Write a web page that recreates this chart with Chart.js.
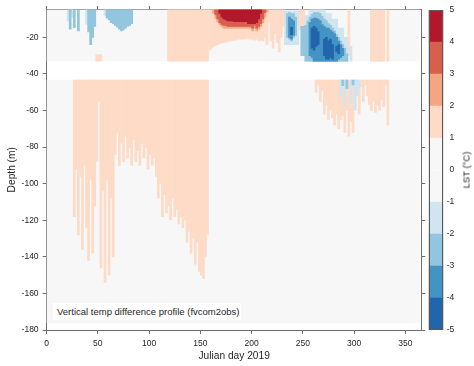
<!DOCTYPE html>
<html>
<head>
<meta charset="utf-8">
<script src="https://cdn.jsdelivr.net/npm/chart.js@4/dist/chart.umd.min.js"></script>
<style>
  html, body { margin: 0; padding: 0; background: #fff; }
  #wrap { position: relative; width: 474px; height: 366px; font-family: 'Liberation Sans', Arial, Helvetica, sans-serif; color: #262626; }
  #main { position: absolute; left: 0; top: 0; }
  #bar { position: absolute; left: 424px; top: 0; }
  #note { position: absolute; left: 53px; top: 303px; width: 188px; height: 17px; line-height: 17px; background: #fff; font-size: 9.5px; padding-left: 4px; box-sizing: border-box; white-space: nowrap; }
  #cbTitle { position: absolute; left: 466px; top: 170px; transform: translate(-50%, -50%) rotate(-90deg); font-size: 9.5px; white-space: nowrap; }
</style>
</head>
<body>
<div id="wrap">
  <canvas id="main" width="474" height="366"></canvas>
  <canvas id="bar" width="50" height="366"></canvas>
  <div id="note">Vertical temp difference profile (fvcom2obs)</div>
  <div id="cbTitle">LST (°C)</div>
</div>
<script>
const FONT = "'Liberation Sans', Arial, Helvetica, sans-serif";
const INK = '#262626';
const AXIS = '#6e6e6e';

// axis ticks
const dayTicks = [0, 50, 100, 150, 200, 250, 300, 350];
const depthTicks = [-180, -160, -140, -120, -100, -80, -60, -40, -20];

// colour levels of the colorbar (LST difference, °C)
const levelEdges = [-5, -4, -3, -2, -1, 0, 1, 2, 3, 4, 5];
const levelColors = ['#2166ac', '#4393c3', '#92c5de', '#d1e5f0', '#f7f7f7', '#f7f7f7', '#fddbc7', '#f4a582', '#d6604d', '#b2182b'];

// depth limits of the profile data (m)
const dataTop = -4.8;
const gapTop = -33;
const gapBottom = -43.4;
const dataBottom = -176;

// one column every 2 days: [firstDay, lastDay, topDepth, bottomDepth]
const warm4Runs = [
  [169, 169, -4.8, -7], [171, 171, -4.8, -9], [173, 173, -4.8, -10], [175, 175, -4.8, -10.5],
  [177, 181, -4.8, -11], [183, 195, -4.8, -11.5], [197, 203, -4.8, -12.5], [205, 205, -4.8, -12],
  [207, 207, -4.8, -10], [209, 209, -4.8, -7]
];
const warm3Runs = [
  [165, 165, -4.8, -7.5], [167, 167, -4.8, -10], [169, 169, -4.8, -12], [171, 171, -4.8, -13],
  [173, 175, -4.8, -13.5], [177, 199, -4.8, -14], [201, 201, -4.8, -15], [203, 203, -4.8, -13.5],
  [205, 205, -4.8, -15], [207, 207, -4.8, -14], [209, 209, -4.8, -12.5], [211, 211, -4.8, -10],
  [213, 213, -4.8, -6.5]
];
const warm2Runs = [
  [163, 163, -4.8, -7], [165, 165, -4.8, -9.5], [167, 167, -4.8, -11.5], [169, 169, -4.8, -13],
  [171, 171, -4.8, -14], [173, 199, -4.8, -15], [201, 201, -4.8, -16.5], [203, 203, -4.8, -15],
  [205, 205, -4.8, -16.5], [207, 207, -4.8, -15.5], [209, 209, -4.8, -14], [211, 211, -4.8, -12],
  [213, 213, -4.8, -9], [215, 215, -4.8, -6]
];
const warm1Runs = [
  [49, 53, -29.5, -33], [119, 157, -4.8, -33], [247, 251, -4.8, -16],
  [295, 295, -4.8, -30], [317, 329, -4.8, -33], [333, 333, -4.8, -33]
];
// 1 to 2 °C columns hanging from the surface / from the gap
const upperWarmStart = 159;
const upperWarmBottom = [
  -27, -26, -25, -24.5, -24, -23.5, -23, -23, -22.5, -22.5, -22, -22, -21.5, -21.5, -21, -21,
  -21, -21, -20.5, -21, -21, -21, -21.5, -21, -22, -21.5, -22, -20, -24, -12, -22, -26,
  -18, -23, -28, -20, -14
];
const deepWestStart = 27;
const deepWestBottom = [
  -118, -92, -128, -96, -136, -90, -124, -142, -98, -138, -112, -88, -55, -146, -104, -154,
  -98, -150, -108, -140, -84, -72, -90, -78, -88, -74, -86, -80, -90, -76, -88, -82,
  -90, -78, -86, -80, -92, -84, -90, -86, -96, -108, -100, -118, -106, -116, -112, -120,
  -108, -118, -114, -122, -118, -124, -120, -132, -126, -138, -130, -144, -132, -148, -150, -152,
  -140, -128
];
const deepEastStart = 263;
const deepEastBottom = [
  -50, -46, -55, -49, -62, -57, -65, -60, -64, -68, -62, -70, -65, -63, -72, -60,
  -74, -66, -72, -58, -50, -62, -47, -55, -46, -52, -57, -60, -55, -61, -57, -60,
  -54, -58, -46, -68
];

const cool1Runs = [
  [21, 21, -4.8, -11], [25, 25, -4.8, -9], [39, 39, -4.8, -13], [57, 57, -4.8, -8],
  [233, 245, -5.5, -24], [253, 255, -8, -33], [257, 271, -4.8, -33], [273, 277, -7, -33],
  [279, 283, -10, -33], [285, 289, -15, -33], [291, 293, -20, -33], [297, 297, -25, -33],
  [287, 287, -43.4, -52], [291, 291, -43.4, -58], [297, 297, -43.4, -56], [301, 301, -43.4, -60],
  [303, 303, -43.4, -52], [305, 305, -43.4, -48]
];
const cool2Runs = [
  [23, 23, -4.8, -15.5], [27, 27, -4.8, -14.8], [31, 31, -4.8, -16.5],
  [41, 41, -4.8, -17], [43, 43, -4.8, -24], [45, 45, -4.8, -20], [47, 47, -4.8, -14],
  [59, 59, -4.8, -9.5], [61, 61, -4.8, -10.5], [63, 63, -4.8, -12], [65, 65, -4.8, -12.5],
  [67, 67, -4.8, -13.5], [69, 69, -4.8, -14.5], [71, 71, -4.8, -15.5], [73, 73, -4.8, -16.5],
  [75, 75, -4.8, -16], [77, 77, -4.8, -15], [79, 79, -4.8, -14], [81, 81, -4.8, -13.5],
  [83, 83, -4.8, -12.5],
  [235, 235, -7, -20], [237, 237, -6.5, -21], [239, 239, -7, -22], [241, 241, -7, -20],
  [243, 243, -9, -19], [249, 251, -14, -30], [253, 253, -13.5, -33], [255, 255, -11, -33],
  [257, 257, -9, -33], [259, 259, -7.5, -33], [261, 265, -6.5, -33], [267, 267, -7, -33],
  [269, 269, -8.5, -33], [271, 271, -10, -33], [273, 273, -11, -33], [275, 275, -12.5, -33],
  [277, 277, -13.5, -33], [279, 279, -15, -33], [281, 281, -16.5, -33], [283, 283, -18.5, -33],
  [285, 285, -20, -33], [287, 287, -22, -33], [289, 289, -24, -33], [291, 291, -26, -33],
  [293, 293, -29, -33],
  [289, 289, -43.4, -46.5], [293, 293, -43.4, -48], [299, 299, -43.4, -46]
];
const cool3Runs = [
  [237, 237, -9, -20], [239, 239, -10, -21], [241, 241, -11, -19],
  [257, 257, -12, -30], [259, 259, -10, -31], [261, 263, -9.5, -33], [265, 265, -10, -33],
  [267, 267, -11, -33], [269, 269, -13, -33], [271, 271, -14, -33], [273, 275, -15, -33],
  [277, 277, -16, -33], [279, 279, -17, -33], [281, 281, -18, -33], [283, 283, -20, -33],
  [285, 285, -22, -32], [287, 287, -24, -31], [289, 289, -26, -30]
];
const cool4Runs = [
  [239, 239, -14.5, -18.5], [259, 259, -15, -26], [261, 261, -14, -27], [263, 263, -15, -25],
  [265, 265, -17, -24], [271, 271, -21, -30], [273, 273, -20, -32], [275, 275, -22, -32],
  [277, 277, -21, -31], [279, 279, -24, -32], [283, 283, -25, -28], [285, 285, -24, -29]
];

function runColumns(runs) {
  const out = [];
  runs.forEach(([from, to, top, bottom]) => {
    for (let day = from; day <= to; day += 2) out.push({ x: day, y: [top, bottom] });
  });
  return out;
}

function profileColumns(start, top, bottoms) {
  return bottoms.map((b, i) => ({ x: start + 2 * i, y: [top, b] }));
}

const warm1Columns = runColumns(warm1Runs)
  .concat(profileColumns(upperWarmStart, dataTop, upperWarmBottom))
  .concat(profileColumns(deepWestStart, gapBottom, deepWestBottom))
  .concat(profileColumns(deepEastStart, gapBottom, deepEastBottom));

function layer(data, color) {
  return { data: data, backgroundColor: color, xAxisID: 'x', yAxisID: 'y' };
}

// index 0 is painted last (on top)
const datasets = [
  layer(runColumns(cool4Runs), levelColors[0]),
  layer(runColumns(cool3Runs), levelColors[1]),
  layer(runColumns(cool2Runs), levelColors[2]),
  layer(runColumns(cool1Runs), levelColors[3]),
  layer(runColumns(warm4Runs), levelColors[9]),
  layer(runColumns(warm3Runs), levelColors[8]),
  layer(runColumns(warm2Runs), levelColors[7]),
  layer(warm1Columns, levelColors[6]),
  {
    // near-zero field, the whole year in one column on its own axis
    data: [{ x: 182, y: [dataTop, gapTop] }, { x: 182, y: [gapBottom, dataBottom] }],
    backgroundColor: levelColors[5],
    xAxisID: 'xb',
    yAxisID: 'y'
  }
];

const tickFont = { family: FONT, size: 8.5 };
const titleFont = { family: FONT, size: 10.2 };
const setTicks = values => s => { s.ticks = values.map(v => ({ value: v })); };

new Chart(document.getElementById('main'), {
  type: 'bar',
  data: { datasets: datasets },
  options: {
    responsive: false,
    animation: false,
    devicePixelRatio: 1,
    layout: { padding: 0 },
    datasets: { bar: { grouped: false, barPercentage: 1, categoryPercentage: 1, borderWidth: 0 } },
    plugins: { legend: { display: false }, tooltip: { enabled: false } },
    scales: {
      x: {
        type: 'linear', position: 'bottom', min: 0, max: 366, offset: false,
        ticks: { font: tickFont, color: INK, padding: 4.5, maxRotation: 0 },
        afterBuildTicks: setTicks(dayTicks),
        grid: { drawOnChartArea: false, offset: false, tickLength: 4, color: AXIS },
        border: { color: AXIS },
        title: { display: true, text: 'Julian day 2019', font: titleFont, color: INK, padding: { top: 0, bottom: 4 } },
        afterFit: s => { s.height = 36; }
      },
      xTop: {
        type: 'linear', position: 'top', min: 0, max: 366, offset: false,
        ticks: { display: false },
        afterBuildTicks: setTicks(dayTicks),
        grid: { drawOnChartArea: false, offset: false, tickLength: 3.5, color: AXIS },
        border: { color: AXIS },
        afterFit: s => { s.height = 9.5; }
      },
      xb: {
        type: 'linear', display: false, min: 0, max: 366, offset: false,
        grid: { offset: false },
        afterBuildTicks: setTicks([0, 364])
      },
      y: {
        type: 'linear', position: 'left', min: -180, max: -4.8,
        ticks: { font: tickFont, color: INK, padding: 4 },
        afterBuildTicks: setTicks(depthTicks),
        grid: { drawOnChartArea: false, tickLength: 4, color: AXIS },
        border: { color: AXIS },
        title: { display: true, text: 'Depth (m)', font: titleFont, color: INK, padding: { top: 6.4, bottom: 0 } },
        afterFit: s => { s.width = 46.6; }
      },
      yRight: {
        type: 'linear', position: 'right', min: -180, max: -4.8,
        ticks: { display: false },
        afterBuildTicks: setTicks(depthTicks),
        grid: { drawOnChartArea: false, tickLength: 3.5, color: AXIS },
        border: { color: AXIS },
        afterFit: s => { s.width = 52.3; }
      }
    }
  }
});

// colorbar
const binData = levelColors.map((c, i) => ({
  data: [[levelEdges[i], levelEdges[i + 1]]],
  backgroundColor: c,
  borderWidth: 0
}));

new Chart(document.getElementById('bar'), {
  type: 'bar',
  data: {
    labels: ['LST'],
    datasets: [{
      data: [[levelEdges[0], levelEdges[levelEdges.length - 1]]],
      backgroundColor: 'rgba(0,0,0,0)',
      borderColor: '#5a5a5a',
      borderWidth: 1,
      borderSkipped: false
    }].concat(binData)
  },
  options: {
    responsive: false,
    animation: false,
    devicePixelRatio: 1,
    layout: { padding: { left: 4.7, top: 10, bottom: 36, right: 19.7 } },
    datasets: { bar: { grouped: false, barPercentage: 1, categoryPercentage: 1 } },
    plugins: { legend: { display: false }, tooltip: { enabled: false } },
    scales: {
      x: { type: 'category', display: false },
      y: {
        position: 'right', min: -5, max: 5,
        ticks: { stepSize: 1, font: tickFont, color: INK, padding: 3, crossAlign: 'far' },
        grid: { drawOnChartArea: false, drawTicks: false },
        border: { display: false },
        afterFit: s => { s.width = 11; }
      }
    }
  }
});
</script>
</body>
</html>
